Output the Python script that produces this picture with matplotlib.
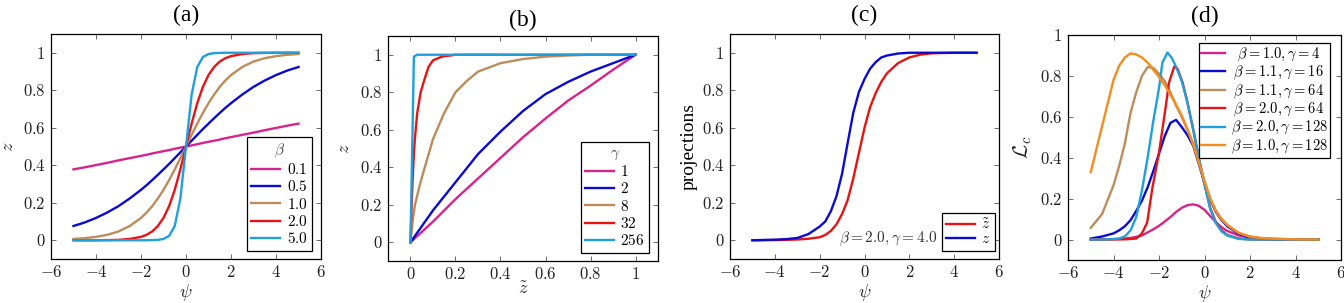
import matplotlib
matplotlib.use("Agg")
import matplotlib.pyplot as plt
from matplotlib.ticker import FuncFormatter

plt.rcParams['mathtext.fontset'] = 'cm'
plt.rcParams['font.family'] = ['Liberation Serif', 'DejaVu Serif']

# colours (pgfplots-like)
MAG = '#d9238c'
BLUE = '#0a0ad2'
BROWN = '#be8c5a'
RED = '#e61414'
CYAN = '#1fa0dc'
ORANGE = '#f58c1e'

# ---- (a) z vs psi for several beta
psi_a = [-5, -4.5, -4, -3.5, -3, -2.5, -2, -1.75, -1.5, -1.25, -1, -0.75, -0.5, -0.25, 0,
         0.25, 0.5, 0.75, 1, 1.25, 1.5, 1.75, 2, 2.5, 3, 3.5, 4, 4.5, 5]
z_beta01 = [0.378, 0.389, 0.401, 0.413, 0.426, 0.438, 0.450, 0.456, 0.463, 0.469, 0.475, 0.481, 0.488, 0.494, 0.500,
            0.506, 0.512, 0.519, 0.525, 0.531, 0.537, 0.544, 0.550, 0.562, 0.574, 0.587, 0.599, 0.611, 0.622]
z_beta05 = [0.076, 0.095, 0.119, 0.148, 0.182, 0.223, 0.269, 0.294, 0.321, 0.349, 0.378, 0.407, 0.438, 0.469, 0.500,
            0.531, 0.562, 0.593, 0.622, 0.651, 0.679, 0.706, 0.731, 0.777, 0.818, 0.852, 0.881, 0.905, 0.924]
z_beta10 = [0.007, 0.011, 0.018, 0.029, 0.047, 0.076, 0.119, 0.148, 0.182, 0.223, 0.269, 0.321, 0.378, 0.438, 0.500,
            0.562, 0.622, 0.679, 0.731, 0.777, 0.818, 0.852, 0.881, 0.924, 0.953, 0.971, 0.982, 0.989, 0.993]
z_beta20 = [0.000, 0.000, 0.000, 0.001, 0.002, 0.007, 0.018, 0.029, 0.047, 0.076, 0.119, 0.182, 0.269, 0.378, 0.500,
            0.622, 0.731, 0.818, 0.881, 0.924, 0.953, 0.971, 0.982, 0.993, 0.998, 0.999, 1.000, 1.000, 1.000]
z_beta50 = [0.000, 0.000, 0.000, 0.000, 0.000, 0.000, 0.000, 0.000, 0.001, 0.002, 0.007, 0.023, 0.076, 0.223, 0.500,
            0.777, 0.924, 0.977, 0.993, 0.998, 0.999, 1.000, 1.000, 1.000, 1.000, 1.000, 1.000, 1.000, 1.000]
beta_labels = ['0.1', '0.5', '1.0', '2.0', '5.0']

# ---- (b) z vs z-tilde for several gamma
zt_g12 = [0, 0.1, 0.2, 0.3, 0.4, 0.5, 0.6, 0.7, 0.8, 0.9, 1.0]
z_g1 = [0, 0.11, 0.23, 0.34, 0.45, 0.56, 0.66, 0.755, 0.835, 0.92, 1.0]
z_g2 = [0, 0.17, 0.32, 0.47, 0.59, 0.70, 0.79, 0.855, 0.91, 0.955, 1.0]
zt_g8 = [0, 0.01, 0.02, 0.04, 0.06, 0.1, 0.15, 0.2, 0.25, 0.3, 0.4, 0.5, 0.6, 0.7, 0.8, 1.0]
z_g8 = [0, 0.12, 0.2, 0.3, 0.385, 0.55, 0.69, 0.8, 0.86, 0.91, 0.955, 0.977, 0.99, 0.996, 1.0, 1.0]
zt_g32 = [0, 0.005, 0.01, 0.015, 0.02, 0.03, 0.045, 0.06, 0.08, 0.1, 0.14, 0.2, 1.0]
z_g32 = [0, 0.2, 0.35, 0.47, 0.56, 0.69, 0.8, 0.86, 0.935, 0.97, 0.99, 1.0, 1.0]
zt_g256 = [0, 0.015, 0.03, 1.0]
z_g256 = [0, 0.99, 1.0, 1.0]
gamma_labels = ['1', '2', '8', '32', '256']

# ---- (c) projections
psi_c = [-5, -4, -3.5, -3, -2.5, -2, -1.75, -1.5, -1.25, -1, -0.75, -0.5, -0.25, 0,
         0.25, 0.5, 0.75, 1, 1.5, 2, 2.5, 3, 4, 5]
proj_ztilde = [0, 0.001, 0.002, 0.004, 0.008, 0.016, 0.028, 0.05, 0.085, 0.14, 0.215, 0.33, 0.465, 0.6,
               0.71, 0.785, 0.845, 0.89, 0.945, 0.975, 0.99, 0.997, 1.0, 1.0]
proj_z = [0, 0.003, 0.006, 0.012, 0.033, 0.073, 0.1, 0.155, 0.235, 0.355, 0.52, 0.68, 0.79, 0.86,
          0.915, 0.95, 0.975, 0.985, 0.996, 1.0, 1.0, 1.0, 1.0, 1.0]

# ---- (d) L_c
psi_d = [-5, -4.5, -4, -3.75, -3.5, -3.25, -3, -2.75, -2.5, -2.25, -2, -1.75, -1.5, -1.25, -1,
         -0.75, -0.5, -0.25, 0, 0.25, 0.5, 0.75, 1, 1.5, 2, 2.5, 3, 4, 5]
lc_b10_g4 = [0, 0.001, 0.002, 0.003, 0.005, 0.008, 0.013, 0.02, 0.035, 0.05, 0.067, 0.088, 0.11, 0.135, 0.155,
             0.168, 0.172, 0.165, 0.145, 0.115, 0.085, 0.06, 0.042, 0.02, 0.009, 0.004, 0.002, 0, 0]
lc_b11_g16 = [0.005, 0.015, 0.03, 0.045, 0.065, 0.095, 0.14, 0.19, 0.255, 0.335, 0.42, 0.505, 0.57, 0.585, 0.55,
              0.51, 0.46, 0.37, 0.275, 0.195, 0.135, 0.095, 0.065, 0.028, 0.012, 0.005, 0.002, 0, 0]
lc_b11_g64 = [0.057, 0.125, 0.265, 0.36, 0.47, 0.62, 0.72, 0.8, 0.843, 0.84, 0.81, 0.775, 0.72, 0.655, 0.6,
              0.535, 0.465, 0.375, 0.285, 0.2, 0.14, 0.1, 0.07, 0.032, 0.014, 0.006, 0.003, 0.001, 0]
psi_d_red = [-5, -3.5, -3, -2.75, -2.52, -2.3, -2, -1.7, -1.56, -1.33, -1.19, -0.96, -0.75, -0.5, -0.25, 0,
             0.25, 0.5, 0.75, 1, 1.5, 2, 3, 5]
lc_b20_g64 = [0, 0.001, 0.005, 0.03, 0.083, 0.246, 0.425, 0.653, 0.767, 0.846, 0.836, 0.767, 0.67, 0.54, 0.4, 0.27,
              0.155, 0.085, 0.045, 0.022, 0.005, 0.001, 0, 0]
psi_d_cyan = [-5, -4.5, -4, -3.75, -3.5, -3.25, -3, -2.75, -2.5, -2.25, -2, -1.85, -1.63, -1.45, -1.25, -1,
              -0.75, -0.5, -0.25, 0, 0.25, 0.5, 0.75, 1, 1.5, 2, 3, 5]
lc_b20_g128 = [0, 0, 0.002, 0.005, 0.015, 0.045, 0.11, 0.24, 0.4, 0.58, 0.74, 0.865, 0.914, 0.89, 0.845, 0.775,
               0.67, 0.54, 0.4, 0.27, 0.15, 0.08, 0.04, 0.02, 0.003, 0, 0, 0]
lc_b10_g128 = [0.33, 0.555, 0.78, 0.85, 0.89, 0.91, 0.905, 0.89, 0.865, 0.83, 0.795, 0.755, 0.71, 0.66, 0.605,
               0.54, 0.47, 0.38, 0.285, 0.2, 0.14, 0.1, 0.072, 0.033, 0.015, 0.008, 0.005, 0.001, 0]
# leading spaces roughly centre the shorter labels, as in the original legend
lc_labels = [r'$\,\,\,\beta = 1.0, \gamma = 4$', r'$\:\beta = 1.1, \gamma = 16$', r'$\:\beta = 1.1, \gamma = 64$',
             r'$\:\beta = 2.0, \gamma = 64$', r'$\beta = 2.0, \gamma = 128$', r'$\beta = 1.0, \gamma = 128$']

LW = 1.7
TICK_FS = 12
LEG_FS = 11
LAB_FS = 13
TXT = '#222222'


def mfmt(v, pos):
    return '$%g$' % round(v, 6)


def style(ax, xlim, ylim, xticks, yticks):
    ax.set_xlim(*xlim)
    ax.set_ylim(*ylim)
    ax.set_xticks(xticks)
    ax.set_yticks(yticks)
    ax.xaxis.set_major_formatter(FuncFormatter(mfmt))
    ax.yaxis.set_major_formatter(FuncFormatter(mfmt))
    ax.tick_params(direction='in', top=True, right=True, length=3.5, width=0.6,
                   color='#555555', labelsize=TICK_FS, labelcolor=TXT, pad=4)
    for s in ax.spines.values():
        s.set_linewidth(0.9)


def legend(ax, loc, anchor, title=None, fs=LEG_FS, spacing=0.15, hlen=1.9, bpad=0.3):
    leg = ax.legend(loc=loc, bbox_to_anchor=anchor, title=title, fontsize=fs, title_fontsize=fs,
                    frameon=True, fancybox=False, framealpha=1, edgecolor='black',
                    handlelength=hlen, handletextpad=0.4, labelspacing=spacing,
                    borderpad=bpad, borderaxespad=0)
    leg.get_frame().set_linewidth(0.9)
    if leg.get_title() is not None:
        leg.get_title().set_color('#444444')
    return leg


W, H = 1344, 303
fig = plt.figure(figsize=(W / 100, H / 100), dpi=100)


def add_ax(x0, y0, x1, y1):
    return fig.add_axes([x0 / W, 1 - y1 / H, (x1 - x0) / W, (y1 - y0) / H])


ax_a = add_ax(51, 34, 321, 259)
ax_b = add_ax(388, 36, 658, 261)
ax_c = add_ax(730, 34, 999, 259)
ax_d = add_ax(1068, 35, 1341, 260)

psi_ticks = [-6, -4, -2, 0, 2, 4, 6]
unit_ticks = [0, 0.2, 0.4, 0.6, 0.8, 1]
TITLE_FS = 17

# (a)
for z, c, lab in zip([z_beta01, z_beta05, z_beta10, z_beta20, z_beta50],
                     [MAG, BLUE, BROWN, RED, CYAN], beta_labels):
    ax_a.plot(psi_a, z, color=c, lw=LW, label='$%s$' % lab)
style(ax_a, (-6, 6), (-0.1, 1.1), psi_ticks, unit_ticks)
ax_a.set_xlabel(r'$\psi$', fontsize=LAB_FS, color=TXT, labelpad=1)
ax_a.set_ylabel('$z$', fontsize=LAB_FS, color=TXT, labelpad=4)
ax_a.set_title('(a)', fontsize=TITLE_FS, pad=9)
legend(ax_a, 'lower right', (0.967, 0.036), title=r'$\beta$')

# (b)
for xs, z, c, lab in zip([zt_g12, zt_g12, zt_g8, zt_g32, zt_g256],
                         [z_g1, z_g2, z_g8, z_g32, z_g256],
                         [MAG, BLUE, BROWN, RED, CYAN], gamma_labels):
    ax_b.plot(xs, z, color=c, lw=LW, label='$%s$' % lab)
style(ax_b, (-0.1, 1.1), (-0.1, 1.1), unit_ticks, unit_ticks)
ax_b.set_xlabel(r'$\tilde{z}$', fontsize=LAB_FS, color=TXT, labelpad=-1)
ax_b.set_ylabel('$z$', fontsize=LAB_FS, color=TXT, labelpad=5)
ax_b.set_title('(b)', fontsize=TITLE_FS, pad=7)
legend(ax_b, 'lower right', (0.967, 0.036), title=r'$\gamma$')

# (c)
ax_c.plot(psi_c, proj_ztilde, color=RED, lw=LW, label=r'$\tilde{z}$')
ax_c.plot(psi_c, proj_z, color=BLUE, lw=LW, label='$z$')
style(ax_c, (-6, 6), (-0.1, 1.1), psi_ticks, unit_ticks)
ax_c.set_xlabel(r'$\psi$', fontsize=LAB_FS, color=TXT, labelpad=1)
ax_c.set_ylabel('projections', fontsize=14, labelpad=3)
ax_c.set_title('(c)', fontsize=TITLE_FS, pad=9)
ax_c.text(1.05, 0.01, r'$\beta = 2.0, \gamma = 4.0$', fontsize=11, color='#333333',
          ha='center', va='center')
legend(ax_c, 'lower right', (0.985, 0.036), spacing=0.05)

# (d)
ax_d.plot(psi_d, lc_b10_g4, color=MAG, lw=LW, label=lc_labels[0])
ax_d.plot(psi_d, lc_b11_g16, color=BLUE, lw=LW, label=lc_labels[1])
ax_d.plot(psi_d, lc_b11_g64, color=BROWN, lw=LW, label=lc_labels[2])
ax_d.plot(psi_d_red, lc_b20_g64, color=RED, lw=LW, label=lc_labels[3])
ax_d.plot(psi_d_cyan, lc_b20_g128, color=CYAN, lw=LW, label=lc_labels[4])
ax_d.plot(psi_d, lc_b10_g128, color=ORANGE, lw=LW, label=lc_labels[5])
style(ax_d, (-6, 6), (-0.1, 1.0), psi_ticks, unit_ticks)
ax_d.set_xlabel(r'$\psi$', fontsize=LAB_FS, color=TXT, labelpad=1)
ax_d.set_ylabel(r'$\mathcal{L}_c$', fontsize=LAB_FS + 2, color=TXT, labelpad=4)
ax_d.set_title('(d)', fontsize=TITLE_FS, pad=9)
legend(ax_d, 'upper right', (0.96, 0.964), fs=10.5, spacing=0.0, hlen=1.65, bpad=0.15)

fig.savefig('out.png', dpi=100)
